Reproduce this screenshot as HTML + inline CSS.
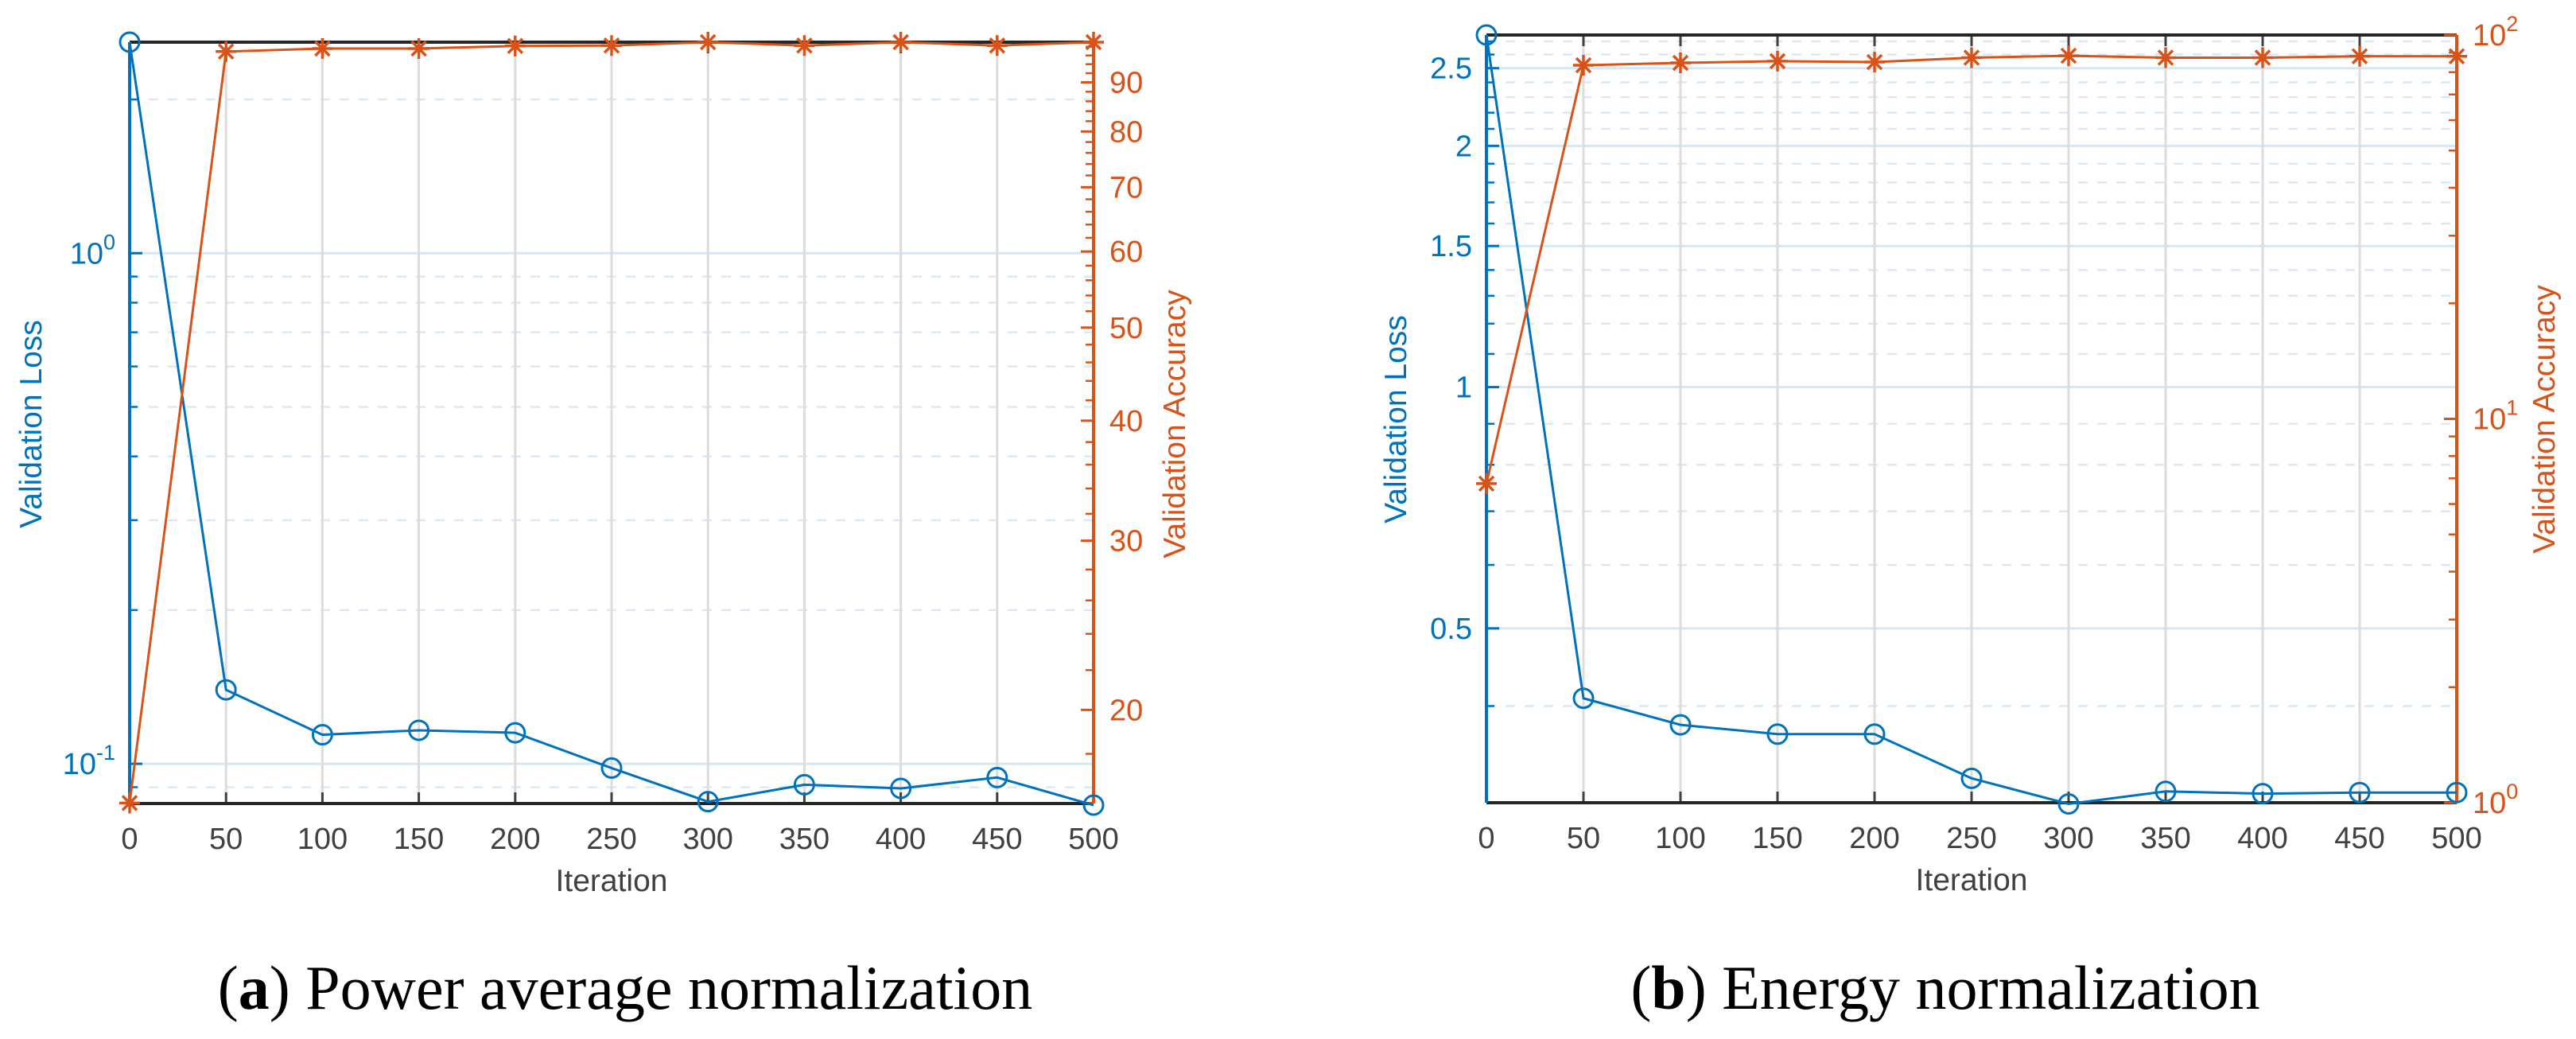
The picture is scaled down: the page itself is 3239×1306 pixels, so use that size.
<!DOCTYPE html>
<html><head><meta charset="utf-8"><style>
html,body{margin:0;padding:0;background:#fff;}
svg{display:block;}
</style></head><body>
<svg id="fig" xmlns="http://www.w3.org/2000/svg" width="3239" height="1306" viewBox="0 0 3239 1306">
<g id="pa"></g>
<g id="pb"></g>
<text x="786" y="1268" text-anchor="middle" font-family="Liberation Serif, serif" font-size="78" fill="#000">(<tspan font-weight="bold">a</tspan>) Power average normalization</text>
<text x="2446" y="1268" text-anchor="middle" font-family="Liberation Serif, serif" font-size="78" fill="#000">(<tspan font-weight="bold">b</tspan>) Energy normalization</text>
</svg>
<script>
const iterations = [0,50,100,150,200,250,300,350,400,450,500];
const xTickLabels = ['0','50','100','150','200','250','300','350','400','450','500'];
const lossA = [2.59,0.1396,0.114,0.1163,0.115,0.0981,0.0843,0.091,0.0895,0.094,0.083];
const accA = [16,96.9,97.6,97.6,98.2,98.3,99.1,98.3,99.1,98.3,99.1];
const lossB = [2.75,0.409,0.379,0.369,0.369,0.325,0.302,0.313,0.311,0.312,0.312];
const accB = [6.78,83.4,84.6,85.5,85,87.3,88.3,87.3,87.3,88,88];
const leftTicksA = [0.1,1];
const rightTicksA = [20,30,40,50,60,70,80,90];
const leftTicksB = [0.5,1,1.5,2,2.5];
const rightTicksB = [1,10,100];

const NS='http://www.w3.org/2000/svg';
const BLUE='#0072BD', ORANGE='#D95319', GRAY='#404040';
function mk(parent,tag,attrs){const e=document.createElementNS(NS,tag);for(const k in attrs)e.setAttribute(k,attrs[k]);parent.appendChild(e);return e;}
function logScale(d0,d1,r0,r1){const a=Math.log10(d0),b=Math.log10(d1);return v=>r0+(Math.log10(v)-a)/(b-a)*(r1-r0);}

function panel(g,o){
  const {L,R,T,B}=o;
  const x=v=>L+(v-0)/(500-0)*(R-L);
  const yl=logScale(o.lmin,o.lmax,B,T);
  const yr=logScale(o.rmin,o.rmax,B,T);
  o.leftMinor.forEach(v=>{ if(v<=o.lmin||v>=o.lmax) return;
    const l=mk(g,'line',{x1:L,x2:R,y1:yl(v),y2:yl(v),stroke:'#dbe8f3','stroke-width':2.5,'stroke-dasharray':'12 12'});
    
    
    mk(g,'line',{x1:L,x2:L+10,y1:yl(v),y2:yl(v),stroke:BLUE,'stroke-width':2.5});
  });
  o.leftTicks.forEach(v=>{
    const l=mk(g,'line',{x1:L,x2:R,y1:yl(v),y2:yl(v),stroke:'#d6e6f2','stroke-width':3});
    
    
    mk(g,'line',{x1:L,x2:L+16,y1:yl(v),y2:yl(v),stroke:BLUE,'stroke-width':3});
  });
  iterations.forEach((v,i)=>{
    const l=mk(g,'line',{x1:x(v),x2:x(v),y1:T,y2:B,stroke:'#dcdcdc','stroke-width':3});
    
    
    mk(g,'line',{x1:x(v),x2:x(v),y1:B,y2:B-14,stroke:GRAY,'stroke-width':3});
    mk(g,'line',{x1:x(v),x2:x(v),y1:T,y2:T+14,stroke:GRAY,'stroke-width':3});
    const t=mk(g,'text',{x:x(v),y:B+57,'text-anchor':'middle','font-family':'Liberation Sans, sans-serif','font-size':38,fill:GRAY});
    t.textContent=xTickLabels[i];
    
    
  });
  mk(g,'line',{x1:L,x2:R,y1:T,y2:T,stroke:'#262626','stroke-width':4});
  mk(g,'line',{x1:L,x2:R,y1:B,y2:B,stroke:'#262626','stroke-width':4});
  const la=mk(g,'line',{x1:L,x2:L,y1:T,y2:B,stroke:BLUE,'stroke-width':4});
  
  
  const ra=mk(g,'line',{x1:R,x2:R,y1:T,y2:B,stroke:ORANGE,'stroke-width':4});
  
  
  o.rightMinor.forEach(v=>{ if(v<o.rmin||v>o.rmax) return;
    mk(g,'line',{x1:R,x2:R-10,y1:yr(v),y2:yr(v),stroke:ORANGE,'stroke-width':2.5});});
  o.rightTicks.forEach((v,i)=>{
    mk(g,'line',{x1:R,x2:R-16,y1:yr(v),y2:yr(v),stroke:ORANGE,'stroke-width':3});
    const t=mk(g,'text',{x:R+20,y:yr(v)+13,'font-family':'Liberation Sans, sans-serif','font-size':38,fill:ORANGE});
    if(o.rightExp){t.textContent='10';const s=mk(t,'tspan',{dy:-18,'font-size':27});s.textContent=String(Math.round(Math.log10(v)));}
    else t.textContent=String(v);
    
    
  });
  o.leftTicks.forEach(v=>{
    const t=mk(g,'text',{x:L-18,y:yl(v)+13,'text-anchor':'end','font-family':'Liberation Sans, sans-serif','font-size':38,fill:BLUE});
    if(o.leftExp){t.textContent='10';const s=mk(t,'tspan',{dy:-18,'font-size':27});s.textContent=String(Math.round(Math.log10(v)));}
    else t.textContent=String(v);
    
    
  });
  const xt=mk(g,'text',{x:(L+R)/2,y:B+110,'text-anchor':'middle','font-family':'Liberation Sans, sans-serif','font-size':39,fill:GRAY});
  xt.textContent='Iteration';
  
  
  const yt=mk(g,'text',{x:0,y:0,'text-anchor':'middle','font-family':'Liberation Sans, sans-serif','font-size':39,fill:BLUE,transform:`translate(${o.ylx},${o.ly}) rotate(-90)`});
  yt.textContent='Validation Loss';
  
  
  const yt2=mk(g,'text',{x:0,y:0,'text-anchor':'middle','font-family':'Liberation Sans, sans-serif','font-size':39,fill:ORANGE,transform:`translate(${o.yrx},${o.ly}) rotate(-90)`});
  yt2.textContent='Validation Accuracy';
  
  
  const lp=iterations.map((v,i)=>x(v)+','+yl(o.loss[i])).join(' ');
  const l1=mk(g,'polyline',{points:lp,fill:'none',stroke:BLUE,'stroke-width':3});
  
  
  const ap=iterations.map((v,i)=>x(v)+','+yr(o.acc[i])).join(' ');
  const l2=mk(g,'polyline',{points:ap,fill:'none',stroke:ORANGE,'stroke-width':3});
  
  
  iterations.forEach((v,i)=>{
    const c=mk(g,'circle',{cx:x(v),cy:yl(o.loss[i]),r:12,fill:'none',stroke:BLUE,'stroke-width':3});
    
    
    const cx=x(v), cy=yr(o.acc[i]), s=13;
    const a=mk(g,'path',{d:`M${cx-s},${cy}H${cx+s}M${cx},${cy-s}V${cy+s}M${cx-9},${cy-9}L${cx+9},${cy+9}M${cx-9},${cy+9}L${cx+9},${cy-9}`,stroke:ORANGE,'stroke-width':3.5,fill:'none'});
    
    
  });
}
const minorA=[0.09,0.2,0.3,0.4,0.5,0.6,0.7,0.8,0.9,2];
const rMinorA=[];for(let v=16;v<=98;v+=2)rMinorA.push(v);
panel(document.getElementById('pa'),{L:163,R:1375,T:53,B:1010,lmin:0.0836,lmax:2.59,rmin:15.98,rmax:99.1,
  loss:lossA,acc:accA,leftTicks:leftTicksA,leftMinor:minorA,rightTicks:rightTicksA,rightMinor:rMinorA,leftExp:true,rightExp:false,ylx:52,yrx:1490,ly:533});
const minorB=[];for(let v=0.4;v<2.75;v+=0.1){const r=Math.round(v*10)/10;if(Math.abs(r*2-Math.round(r*2))>1e-6)minorB.push(r);}
const rMinorB=[2,3,4,5,6,7,8,9,20,30,40,50,60,70,80,90];
panel(document.getElementById('pb'),{L:1869,R:3089,T:44,B:1009,lmin:0.303,lmax:2.75,rmin:1,rmax:100,
  loss:lossB,acc:accB,leftTicks:leftTicksB,leftMinor:minorB,rightTicks:rightTicksB,rightMinor:rMinorB,leftExp:false,rightExp:true,ylx:1768,yrx:3212,ly:527});
</script>
</body></html>
